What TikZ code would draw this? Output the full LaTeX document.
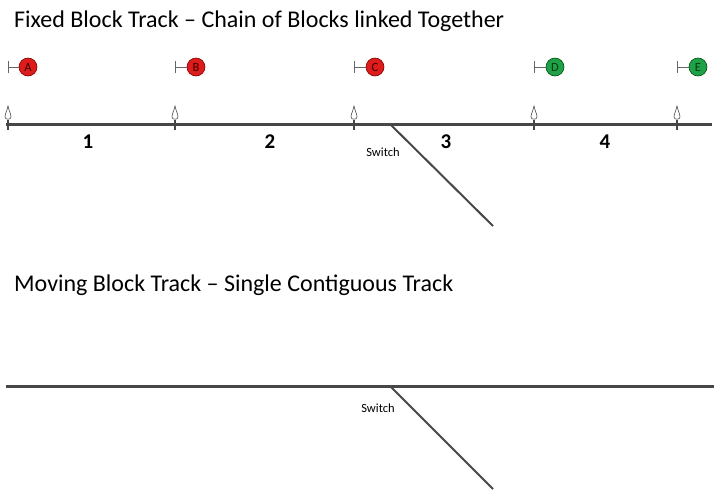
\documentclass[tikz,border=0pt]{standalone}
\usepackage{fontspec}
\setmainfont{Carlito}
\definecolor{sgreen}{HTML}{1FA04A}
\definecolor{sred}{HTML}{DD1C1C}
\begin{document}
\begin{tikzpicture}[x=1pt,y=-1pt,
  track/.style={line width=3pt,draw=black!72},
  sigred/.style={circle,fill=sred,draw=red!50!black,line width=0.6pt,minimum size=18pt,inner sep=0pt,font=\fontsize{12.5}{12.5}\selectfont,text=black!75!red},
  siggreen/.style={circle,fill=sgreen,draw=green!30!black,line width=0.6pt,minimum size=18pt,inner sep=0pt,font=\fontsize{12.5}{12.5}\selectfont,text=black!75!green},
  title/.style={anchor=west,font=\fontsize{24}{24}\selectfont,inner sep=0pt},
  num/.style={font=\bfseries\fontsize{21}{21}\selectfont,inner sep=0pt},
  sw/.style={font=\fontsize{12.5}{12.5}\selectfont,inner sep=0pt}]
\useasboundingbox (0,0) rectangle (716,491);
\node[title] (t1) at (14,21) {Fixed Block Track – Chain of Blocks linked Together};
\node[title] (t2) at (14,285) {Moving Block Track – Single Contiguous Track};
\coordinate (l1) at (6,124); \coordinate (r1) at (712,124);
\draw[track] (l1) -- (r1);
\coordinate (s1) at (390,124); \coordinate (e1) at (493,226);
\draw[line width=2pt,black!72] (s1) -- (e1);
\coordinate (l2) at (6,386); \coordinate (r2) at (714,386);
\draw[track] (l2) -- (r2);
\coordinate (s2) at (390,386); \coordinate (e2) at (493,489);
\draw[line width=2pt,black!72] (s2) -- (e2);
\foreach \x/\c/\L/\st in {8/28/A/sigred,175/196/B/sigred,354/375/C/sigred,534/555/D/siggreen,677/698/E/siggreen}{
  \node[\st] (sig\L) at (\c,67) {\L};
  \draw[black!60,line width=0.8pt] (\x,61) -- (\x,73);
  \draw[black!60,line width=0.8pt] (\x,67) -- (sig\L.west);
  \draw[line width=2pt,black!72] (\x,120) -- (\x,130);
  \draw[black!70,line width=0.6pt,fill=white] (\x,106) .. controls (\x+1,111) and (\x+3,114) .. (\x+3,117) .. controls (\x+3,120) and (\x-3,120) .. (\x-3,117) .. controls (\x-3,114) and (\x-1,111) .. (\x,106) -- cycle;
}
\node[num] (n1) at (88,142) {1};
\node[num] (n2) at (270,142) {2};
\node[num] (n3) at (446,142) {3};
\node[num] (n4) at (605,142) {4};
\node[sw] (w1) at (383,152) {Switch};
\node[sw] (w2) at (378,408) {Switch};
\end{tikzpicture}
\end{document}
